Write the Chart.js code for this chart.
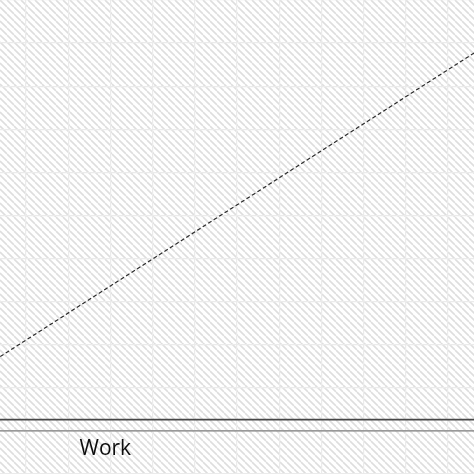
<!DOCTYPE html>
<html>
<head>
<meta charset="utf-8">
<script src="https://cdn.jsdelivr.net/npm/chart.js@4.4.1/dist/chart.umd.min.js"></script>
<style>
  html, body { margin: 0; padding: 0; background: #fff; }
  .chart-container { width: 474px; height: 474px; }
</style>
</head>
<body>
<div class="chart-container">
  <canvas id="myChart"></canvas>
</div>
<script>
// Data for the chart
const trendX = [-1, 11];
const trendY = [1.48, 9.01];
const upperBaseY = 0.26;
const lowerBaseY = 0;
const categories = ['Work'];
const categoryX = [1.88];
const categoryY = -0.43;
const xRange = [-0.616, 10.616];
const yRange = [-1, 10];

// Diagonal hatch used behind the whole picture
const makeHatch = () => {
  const tile = document.createElement('canvas');
  tile.width = 7;
  tile.height = 7;
  const t = tile.getContext('2d');
  t.fillStyle = '#ffffff';
  t.fillRect(0, 0, 7, 7);
  t.strokeStyle = '#dedede';
  t.lineWidth = 1.6;
  [-7, 0, 7].forEach((k) => {
    t.beginPath();
    t.moveTo(k, 0);
    t.lineTo(k + 7, 7);
    t.stroke();
  });
  return tile;
};

const hatchBackground = {
  id: 'hatchBackground',
  beforeDraw(chart) {
    const ctx = chart.ctx;
    ctx.save();
    ctx.fillStyle = ctx.createPattern(makeHatch(), 'repeat');
    ctx.fillRect(0, 0, chart.width, chart.height);
    ctx.restore();
  },
};

// Category labels placed through the scales
const categoryLabels = {
  id: 'categoryLabels',
  afterDatasetsDraw(chart) {
    const ctx = chart.ctx;
    const xs = chart.scales.x;
    const ys = chart.scales.y;
    ctx.save();
    ctx.fillStyle = '#0d0d0d';
    ctx.font = '21px "Open Sans", sans-serif';
    ctx.textAlign = 'center';
    ctx.textBaseline = 'middle';
    categories.forEach((label, i) => {
      ctx.fillText(label, xs.getPixelForValue(categoryX[i]), ys.getPixelForValue(categoryY));
    });
    ctx.restore();
  },
};

const flatLine = (y) => trendX.map((x) => ({ x: x, y: y }));

const myChart = new Chart(document.getElementById('myChart'), {
  type: 'line',
  data: {
    datasets: [
      {
        data: trendX.map((x, i) => ({ x: x, y: trendY[i] })),
        borderColor: '#2b2b2b',
        borderWidth: 1.2,
        borderDash: [4, 2.5],
        pointRadius: 0,
        tension: 0,
      },
      {
        data: flatLine(upperBaseY),
        borderColor: '#474747',
        borderWidth: 1.7,
        pointRadius: 0,
      },
      {
        data: flatLine(lowerBaseY),
        borderColor: '#7e7e7e',
        borderWidth: 1.4,
        pointRadius: 0,
      },
    ],
  },
  options: {
    responsive: true,
    maintainAspectRatio: false,
    animation: false,
    layout: { padding: 0 },
    plugins: {
      legend: { display: false },
      tooltip: { enabled: false },
    },
    scales: {
      x: {
        type: 'linear',
        min: xRange[0],
        max: xRange[1],
        ticks: { display: false, stepSize: 1, includeBounds: false },
        grid: { color: '#ebebeb', lineWidth: 1.2, drawTicks: false },
        border: { display: false },
      },
      y: {
        type: 'linear',
        min: yRange[0],
        max: yRange[1],
        ticks: { display: false, stepSize: 1, includeBounds: false },
        grid: { color: '#ebebeb', lineWidth: 1.2, drawTicks: false },
        border: { display: false },
      },
    },
  },
  plugins: [hatchBackground, categoryLabels],
});
</script>
</body>
</html>
